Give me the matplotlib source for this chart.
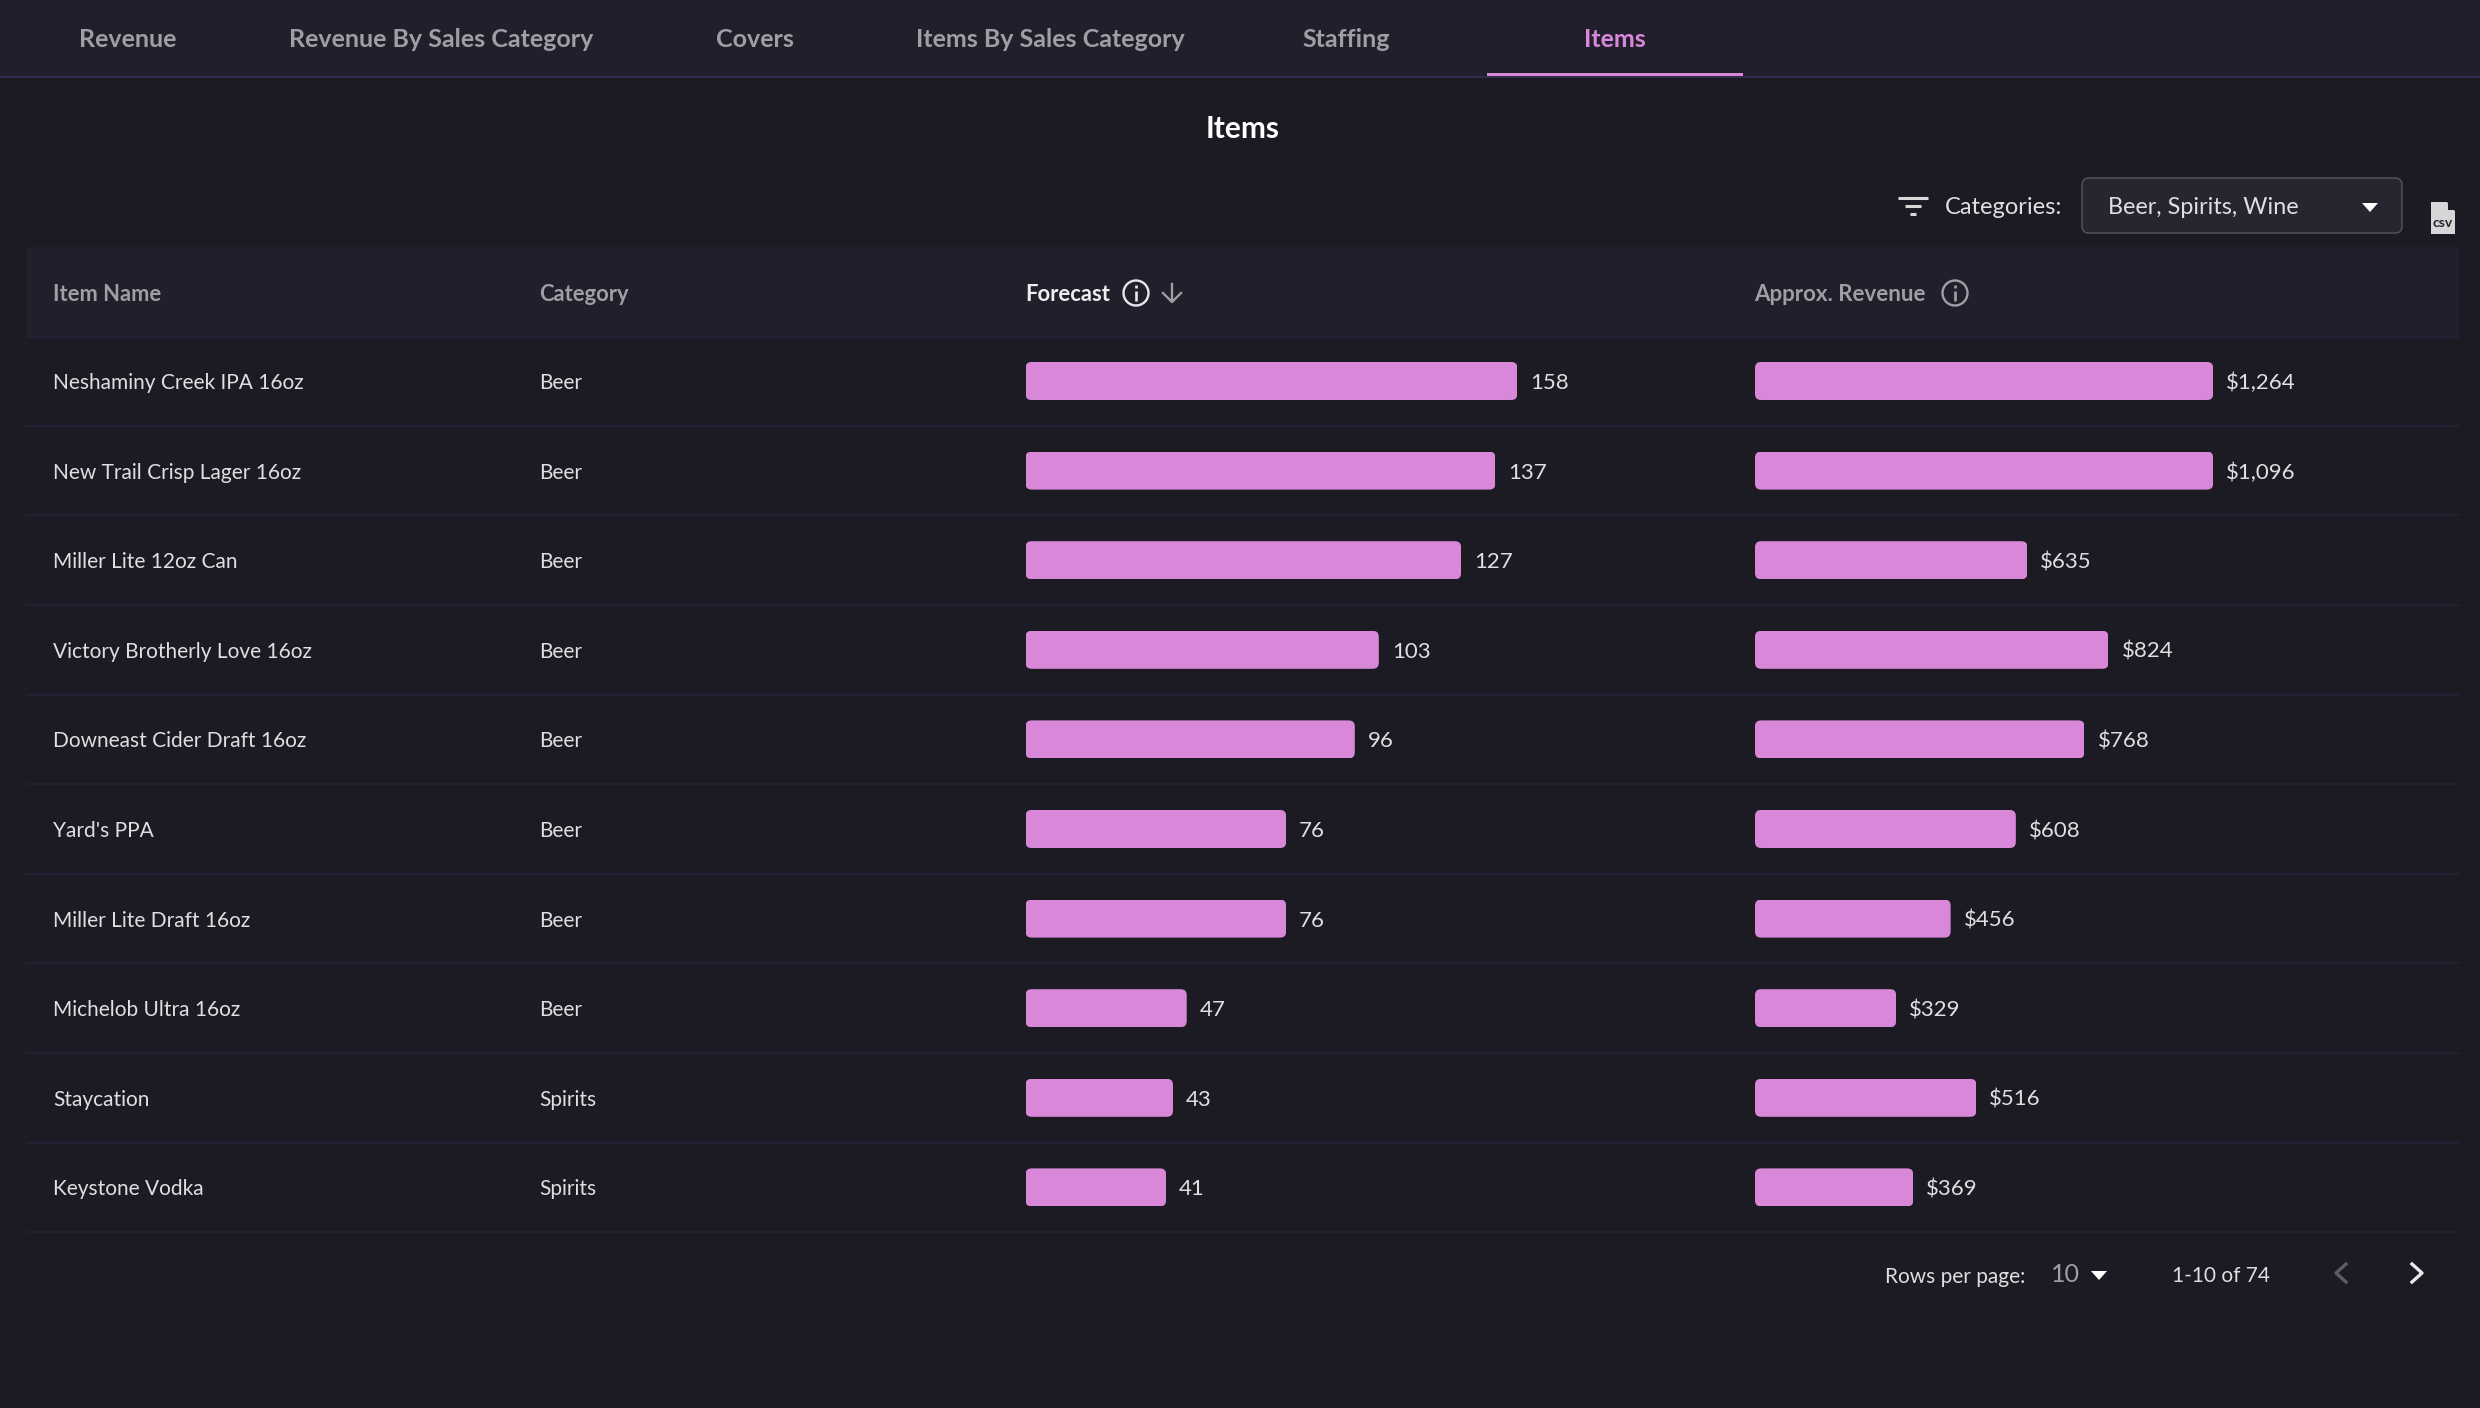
import numpy as np
import matplotlib
matplotlib.use("Agg")
import matplotlib.pyplot as plt
from matplotlib.patches import FancyBboxPatch, Rectangle, Circle, Polygon

# ---------- data ----------
items = ["Neshaminy Creek IPA 16oz", "New Trail Crisp Lager 16oz", "Miller Lite 12oz Can",
         "Victory Brotherly Love 16oz", "Downeast Cider Draft 16oz", "Yard's PPA",
         "Miller Lite Draft 16oz", "Michelob Ultra 16oz", "Staycation", "Keystone Vodka"]
categories = ["Beer", "Beer", "Beer", "Beer", "Beer", "Beer", "Beer", "Beer", "Spirits", "Spirits"]
forecast = [158, 137, 127, 103, 96, 76, 76, 47, 43, 41]
revenue = [1264, 1096, 635, 824, 768, 608, 456, 329, 516, 369]
forecast_cap = 143.4   # bars stop growing at this value in the reference
revenue_cap = 1068
tabs = ["Revenue", "Revenue By Sales Category", "Covers", "Items By Sales Category", "Staffing", "Items"]

# ---------- style ----------
W, H = 2480, 1408
BG = "#1c1b24"; BAND = "#221f2c"; PINK = "#d988d9"; LINE = "#262038"; TABLINE = "#3a3058"
TXT = "#dfdfe2"; GRAY = "#a09ea5"; WHITE = "#ffffff"
plt.rcParams["font.family"] = ["Lato", "DejaVu Sans"]

fig = plt.figure(figsize=(W / 100, H / 100), dpi=100, facecolor=BG)
ui = fig.add_axes([0, 0, 1, 1]); ui.set_xlim(0, W); ui.set_ylim(H, 0); ui.axis("off")

def T(x, y, s, size=15, color=TXT, ha="left", weight="normal"):
    ui.text(x, y, s, fontsize=size, color=color, ha=ha, va="center_baseline", fontweight=weight)

# tab bar
ui.add_patch(Rectangle((0, 0), W, 76, fc=BAND, ec="none"))
ui.plot([0, W], [76.5, 76.5], color=TABLINE, lw=1.2)
tab_x = [128, 441, 755, 1050, 1346, 1615]
for s, x in zip(tabs, tab_x):
    T(x, 37.5, s, size=18, color=PINK if s == "Items" else GRAY, ha="center", weight="bold")
ui.add_patch(Rectangle((1487, 73), 256, 3.2, fc=PINK, ec="none"))

# title
T(1243, 127, "Items", size=21.5, color=WHITE, ha="center", weight="bold")

# filter row
for x0, x1, y in [(1898, 1928, 198), (1905, 1921, 206), (1910, 1916, 214)]:
    ui.plot([x0, x1], [y, y], color="#d8d8da", lw=2.2, solid_capstyle="butt")
T(1945, 206, "Categories:", size=17)
ui.add_patch(FancyBboxPatch((2082, 178), 320, 55, boxstyle="round,pad=0,rounding_size=7",
                            fc="#272530", ec="#56535f", lw=1))
T(2108, 206, "Beer, Spirits, Wine", size=16.8)
ui.add_patch(Polygon([(2362, 203), (2378, 203), (2370, 212)], fc=WHITE, ec="none"))
ui.add_patch(Polygon([(2431, 202), (2447, 202), (2455, 211), (2455, 234), (2431, 234)], fc="#d6d6d8", ec="none"))
ui.add_patch(Polygon([(2448, 202), (2455, 210), (2448, 210)], fc=BG, ec="none"))
T(2443, 222, "csv", size=10, color="#26252c", ha="center", weight="bold")

# table header
ui.add_patch(Rectangle((27, 247), 2432, 90, fc=BAND, ec="none"))
ui.plot([27, 2459], [337, 337], color=LINE, lw=1.2)
T(53, 292.5, "Item Name", size=15.8, color=GRAY, weight="bold")
T(539, 292.5, "Category", size=15.8, color=GRAY, weight="bold")
T(1025, 292.5, "Forecast", size=15.8, color="#eeeeee", weight="bold")
T(1754, 292.5, "Approx. Revenue", size=16, color=GRAY, weight="bold")
for cx, col in [(1136, "#e8e8e8"), (1955, GRAY)]:
    ui.add_patch(Circle((cx, 293), 12.5, fc="none", ec=col, lw=1.7))
    ui.plot([cx, cx], [291, 301], color=col, lw=1.9, solid_capstyle="butt")
    ui.plot([cx, cx], [285, 288], color=col, lw=1.9, solid_capstyle="butt")
ui.plot([1172, 1172], [284, 301], color=GRAY, lw=1.7)
ui.plot([1163, 1172, 1181], [293, 302, 293], color=GRAY, lw=1.7)

# row text and separators
ROW_H = 89.6
TOP = 336.2
PANEL_H = ROW_H * 10
BOTTOM = (H - TOP - PANEL_H) / H
row_y = fig.add_axes([0, BOTTOM, 1, PANEL_H / H]); row_y.axis("off")
row_y.set_xlim(0, W); row_y.set_ylim(9.5, -0.5); row_y.patch.set_alpha(0)
for i, (name, cat) in enumerate(zip(items, categories)):
    row_y.text(53, i, name, fontsize=15, color=TXT, va="center_baseline")
    row_y.text(539, i, cat, fontsize=15, color=TXT, va="center_baseline")
    row_y.plot([27, 2459], [i + 0.5, i + 0.5], color=LINE, lw=1.2, clip_on=False)

# bars
def bar_panel(x_px, px_per_unit, values, cap, fmt):
    width_px = 700
    ax = fig.add_axes([x_px / W, BOTTOM, width_px / W, PANEL_H / H])
    ax.set_xlim(0, width_px / px_per_unit); ax.set_ylim(9.5, -0.5); ax.axis("off"); ax.patch.set_alpha(0)
    ys = np.arange(len(values))
    shown = np.minimum(values, cap)
    bh = 38 / ROW_H
    bars = ax.barh(ys, shown, height=bh, color=PINK, linewidth=0)
    r = 6 / px_per_unit
    aspect = (6 / ROW_H) / r
    for b in bars:
        clip = FancyBboxPatch((b.get_x(), b.get_y()), b.get_width(), b.get_height(),
                              boxstyle=f"round,pad=0,rounding_size={r}", mutation_aspect=aspect,
                              transform=ax.transData)
        b.set_clip_path(clip)
    for y, s, v in zip(ys, shown, values):
        ax.text(s + 13 / px_per_unit, y, fmt(v), fontsize=16, color=TXT, va="center_baseline")

bar_panel(1025.5, 3.43, forecast, forecast_cap, lambda v: f"{v}")
bar_panel(1755, 0.429, revenue, revenue_cap, lambda v: f"${v:,}")

# pagination
T(1885, 1275, "Rows per page:", size=15)
T(2051, 1273, "10", size=18, color=GRAY)
ui.add_patch(Polygon([(2091, 1271), (2107, 1271), (2099, 1280)], fc=WHITE, ec="none"))
T(2172, 1274, "1-10 of 74", size=15)
ui.plot([2346, 2336, 2346], [1264, 1273, 1282], color="#5d5b66", lw=2.4)
ui.plot([2412, 2422, 2412], [1264, 1273, 1282], color="#e8e8e8", lw=2.4)

fig.savefig("out.png", dpi=100, facecolor=BG)
